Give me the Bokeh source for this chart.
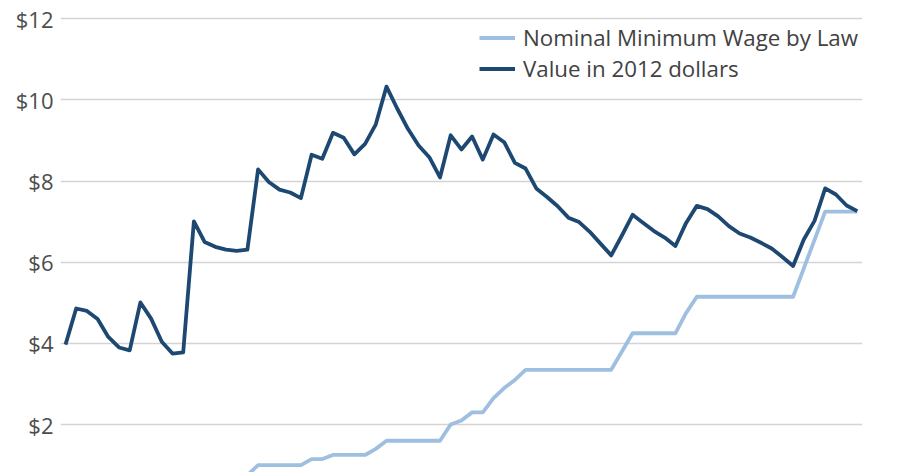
from bokeh.plotting import figure
from bokeh.models import Range1d, Legend, LegendItem, FixedTicker, CustomJSTickFormatter
from bokeh.embed import file_html
from bokeh.resources import INLINE

years = list(range(1938, 2013))

nominal = [0.25, 0.30, 0.30, 0.30, 0.30, 0.30, 0.30, 0.40, 0.40, 0.40,
           0.40, 0.40, 0.75, 0.75, 0.75, 0.75, 0.75, 0.75, 1.00, 1.00,
           1.00, 1.00, 1.00, 1.15, 1.15, 1.25, 1.25, 1.25, 1.25, 1.40,
           1.60, 1.60, 1.60, 1.60, 1.60, 1.60, 2.00, 2.10, 2.30, 2.30,
           2.65, 2.90, 3.10, 3.35, 3.35, 3.35, 3.35, 3.35, 3.35, 3.35,
           3.35, 3.35, 3.80, 4.25, 4.25, 4.25, 4.25, 4.25, 4.75, 5.15,
           5.15, 5.15, 5.15, 5.15, 5.15, 5.15, 5.15, 5.15, 5.15, 5.85,
           6.55, 7.25, 7.25, 7.25, 7.25]

real_2012 = [3.97, 4.86, 4.80, 4.60, 4.16, 3.90, 3.83, 5.01, 4.61, 4.04,
             3.75, 3.78, 7.01, 6.50, 6.38, 6.31, 6.28, 6.31, 8.29, 7.98,
             7.79, 7.72, 7.58, 8.65, 8.55, 9.19, 9.07, 8.66, 8.92, 9.40,
             10.33, 9.79, 9.29, 8.88, 8.59, 8.09, 9.13, 8.78, 9.10, 8.53,
             9.15, 8.96, 8.45, 8.31, 7.82, 7.61, 7.38, 7.10, 6.99, 6.75,
             6.46, 6.17, 6.66, 7.17, 6.97, 6.77, 6.61, 6.40, 6.97, 7.39,
             7.31, 7.13, 6.89, 6.71, 6.61, 6.48, 6.34, 6.13, 5.91, 6.56,
             7.02, 7.82, 7.67, 7.40, 7.26]

y_ticks = [2, 4, 6, 8, 10, 12]
series_labels = ["Nominal Minimum Wage by Law", "Value in 2012 dollars"]

LIGHT = "#9fbfe0"
DARK = "#1d4872"
FONT = "Open Sans"

p = figure(width=882, height=472, output_backend="svg", toolbar_location=None,
           x_axis_type=None,
           x_range=Range1d(1937.533, 2012.486), y_range=Range1d(0.818, 12.255),
           min_border_left=60, min_border_right=20, min_border_top=8, min_border_bottom=0)
p.outline_line_color = None
p.background_fill_color = "white"
p.border_fill_color = "white"

r1 = p.line(years, nominal, line_color=LIGHT, line_width=3.8, line_join="round")
r2 = p.line(years, real_2012, line_color=DARK, line_width=3.8, line_join="round")

yaxis = p.yaxis[0]
yaxis.ticker = FixedTicker(ticks=y_ticks)
yaxis.formatter = CustomJSTickFormatter(code="return '$' + tick.toFixed(0);")
yaxis.axis_line_color = None
yaxis.major_tick_line_color = None
yaxis.minor_tick_line_color = None
yaxis.major_tick_out = 0
yaxis.major_tick_in = 0
yaxis.major_label_standoff = 7
yaxis.major_label_text_font = FONT
yaxis.major_label_text_font_size = "22px"
yaxis.major_label_text_color = "#4d4d4d"

p.ygrid.ticker = FixedTicker(ticks=y_ticks)
p.ygrid.grid_line_color = "#d4d4d4"
p.ygrid.grid_line_width = 1.5
p.xgrid.visible = False

legend = Legend(items=[LegendItem(label=series_labels[0], renderers=[r1]),
                       LegendItem(label=series_labels[1], renderers=[r2])],
                location=(419, 388), orientation="vertical")
legend.background_fill_alpha = 0
legend.border_line_alpha = 0
legend.padding = 0
legend.margin = 0
legend.spacing = 0
legend.glyph_width = 36
legend.glyph_height = 29
legend.label_height = 29
legend.label_standoff = 8
legend.label_text_font = FONT
legend.label_text_font_size = "22.3px"
legend.label_text_color = "#424242"
legend.label_text_baseline = "middle"
p.add_layout(legend)

open("out.html", "w").write(file_html(p, INLINE))
